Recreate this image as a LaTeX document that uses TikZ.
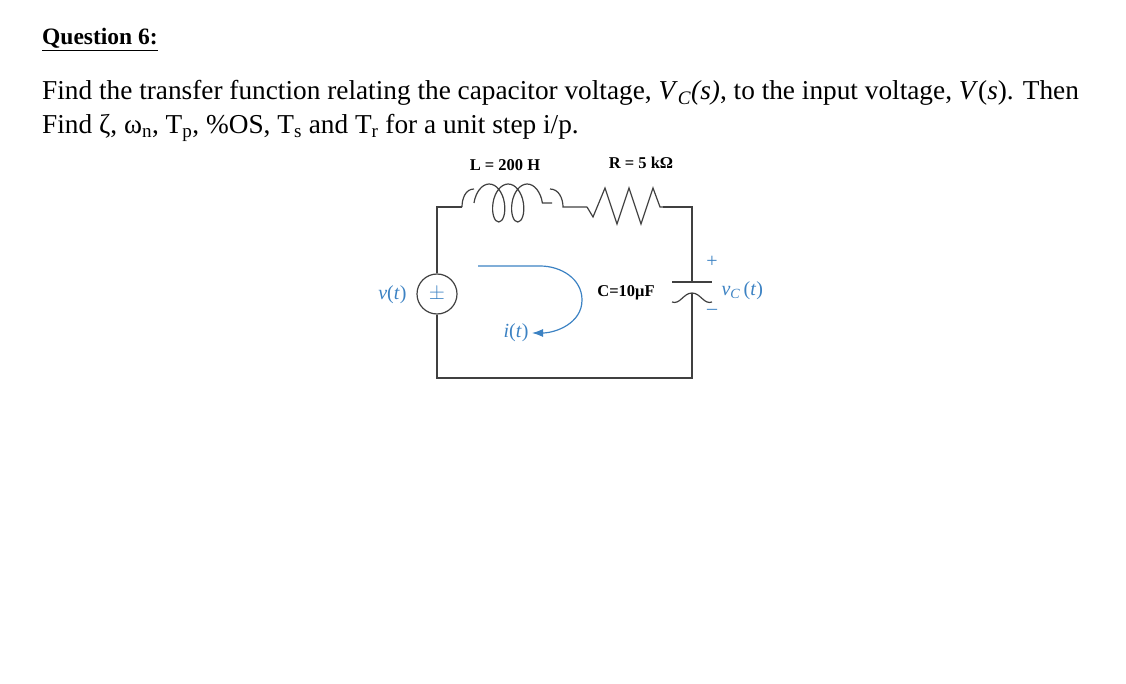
\documentclass[tikz,border=0pt]{standalone}
\usepackage{fontspec}
\setmainfont{Liberation Serif}
\usetikzlibrary{decorations.pathmorphing,arrows.meta}
\definecolor{cblue}{RGB}{60,130,195}
\begin{document}
\begin{tikzpicture}[x=1pt,y=-1pt,
  wire/.style={line width=1.2pt,black!75},
  lbl/.style={font=\fontsize{16.5}{18}\selectfont\bfseries},
  blbl/.style={cblue,font=\fontsize{20}{22}\selectfont}]
\useasboundingbox (0,0) rectangle (1126,684);
\node[anchor=base west,inner sep=0,font=\fontsize{23.5}{26}\selectfont\bfseries] (title) at (42,45) {\underline{Question 6:}};
\node[anchor=base west,inner sep=0,font=\fontsize{27.3}{30}\selectfont] (l1) at (42,100) {Find the transfer function relating the capacitor voltage, \textit{V}\textsubscript{\textit{C}}\textit{(s)}, to the input voltage, \textit{V}(\textit{s}). Then};
\node[anchor=base west,inner sep=0,font=\fontsize{27.3}{30}\selectfont] (l2) at (42,134) {Find ζ, ω\textsubscript{n}, T\textsubscript{p}, \%OS, T\textsubscript{s} and T\textsubscript{r} for a unit step i/p.};
% circuit
\coordinate (tl) at (437,207);
\coordinate (tr) at (692,207);
\coordinate (bl) at (437,378);
\coordinate (br) at (692,378);
\coordinate (la) at (462,207);
\coordinate (lb) at (563,207);
\coordinate (ra) at (587,207);
\coordinate (rb) at (663,207);
\node[draw,circle,line width=1.2pt,draw=black!75,minimum size=40pt,inner sep=0] (src) at (437,294) {};
\node[font=\fontsize{22}{22}\selectfont,cblue] at (src.center) {$\pm$};
\coordinate (cp) at (692,282);
\coordinate (cn) at (692,293);
\draw[wire] (src.north) -- (tl) -- (la);
\draw[wire] (la) to[out=90,in=180] (474,189);
\draw[wire,decorate,decoration={coil,aspect=0.55,segment length=19,amplitude=19}] (474,203) -- (552,203);
\draw[wire] (550,189) to[out=0,in=90] (lb) -- (ra);
\draw[wire] (ra) -- (593,217) -- (605,188) -- (617,224) -- (629,188) -- (641,224) -- (653,188) -- (660,207) -- (rb);
\draw[wire] (rb) -- (tr) -- (cp);
\draw[wire] (672,282) -- (712,282);
\draw[wire] (672,302) to[out=-20,in=180] (cn) to[out=0,in=200] (712,302);
\draw[wire] (cn) -- (br) -- (bl) -- (src.south);
% current arrow
\coordinate (ia) at (478,266);
\coordinate (ib) at (532,333);
\draw[cblue,line width=1.2pt,-{Latex[length=11pt,width=8pt]}] (ia) -- (540,266) to[out=0,in=90] (582,300) to[out=-90,in=0] (ib);
% labels
\node[lbl] (L) at (505,165) {L = 200 H};
\node[lbl] (R) at (641,163) {R = 5 kΩ};
\node[lbl] (C) at (626,293) {C=10μF};
\node[blbl,anchor=east] (vt) at (410,295) {\textit{v}(\textit{t})};
\node[blbl,anchor=west] (vc) at (718,291) {\textit{v}\textsubscript{\textit{C}}\,(\textit{t})};
\node[blbl] (pl) at (712,262) {+};
\node[blbl] (mi) at (712,312) {–};
\node[blbl,anchor=east] (it) at (532,333) {\textit{i}(\textit{t})};
\end{tikzpicture}
\end{document}
